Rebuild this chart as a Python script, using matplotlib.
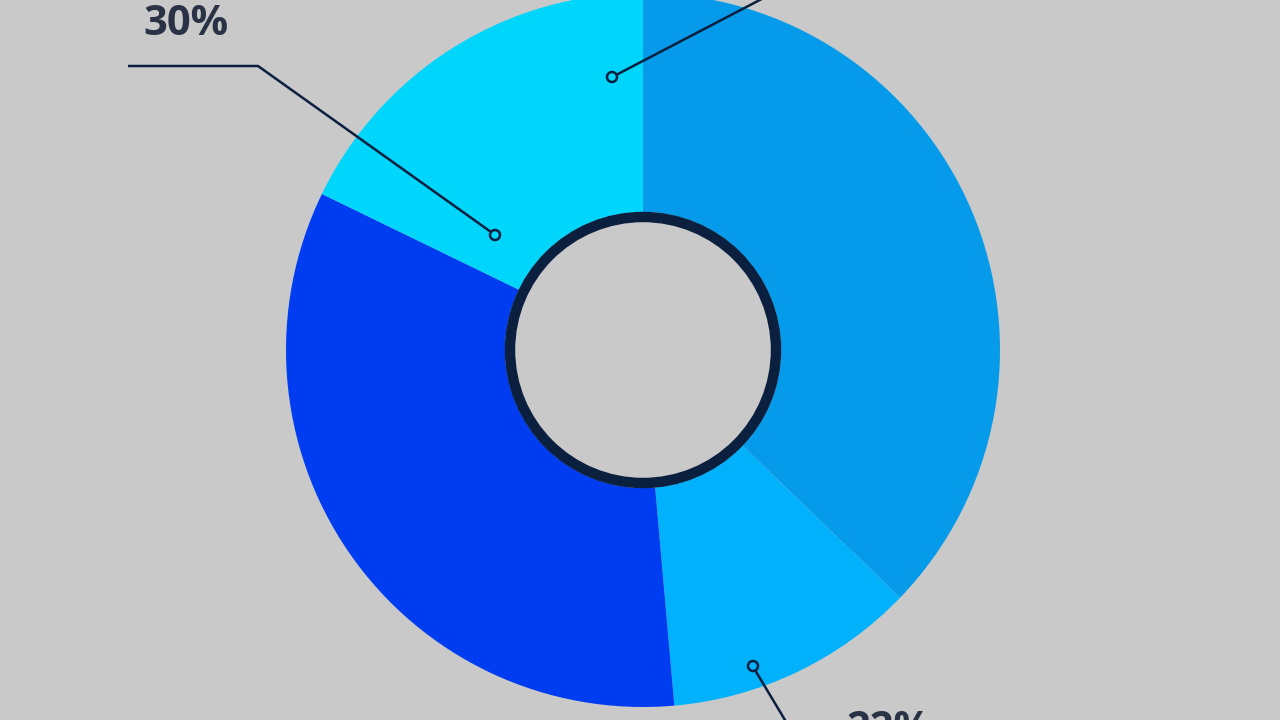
import matplotlib
matplotlib.use("Agg")
import matplotlib.pyplot as plt
from matplotlib.patches import Circle

# ---- data ----
shares = [37.2, 11.4, 33.6, 17.8]          # clockwise from 12 o'clock
colors = ["#059BEA", "#02B1FB", "#003DF0", "#00D5FB"]
label_texts = ["30%", "22%"]

BG = "#C9C9C9"
NAVY = "#0B1F3F"
INK = "#2A3346"

W, H = 1280, 720
fig = plt.figure(figsize=(12.8, 7.2), dpi=100, facecolor=BG)
ax = fig.add_axes([0, 0, 1, 1])
ax.set_facecolor(BG)

def py(y):
    return H - y

cx, cy, R, r_in = 643, py(350), 357, 138

ax.pie(shares, colors=colors, startangle=90, counterclock=False,
       center=(cx, cy), radius=R, frame=True,
       wedgeprops=dict(width=R - r_in, linewidth=0, antialiased=True))
ax.set_xlim(0, W)
ax.set_ylim(0, H)
ax.set_aspect("equal")
ax.axis("off")

# inner hole with dark ring
ax.add_patch(Circle((cx, cy), r_in - 5, facecolor=BG, edgecolor=NAVY,
                    linewidth=7.5, zorder=5))

# leader lines
def leader(xs, ys, end):
    ax.plot(xs, [py(v) for v in ys], color=NAVY, lw=1.8, zorder=6,
            solid_capstyle="butt", clip_on=False)
    ax.add_patch(Circle((end[0], py(end[1])), 5, facecolor="none",
                        edgecolor=NAVY, linewidth=1.8, zorder=7))

leader([128, 258, 491], [66, 66, 232], (495, 235))
leader([616, 800], [75, -21], (612, 77))
leader([755, 800], [670, 745], (753, 666))

font = dict(family=["Open Sans", "DejaVu Sans"], weight="bold",
            fontsize=30, color=INK)
ax.text(186, py(35), label_texts[0], ha="center", va="baseline", **font)
ax.text(889, py(741), label_texts[1], ha="center", va="baseline",
        clip_on=False, **font)

fig.savefig("out.png", dpi=100, facecolor=BG)
